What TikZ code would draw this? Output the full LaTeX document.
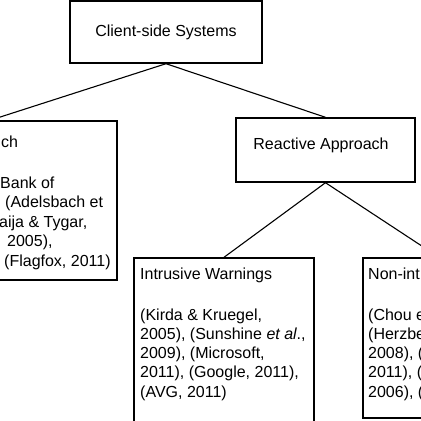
\documentclass[tikz,border=0pt]{standalone}
\usepackage{fontspec}
\setmainfont{Liberation Sans}
\usepackage{tikz}
\usetikzlibrary{positioning}
\tikzstyle{box} = [rectangle, draw, line width=1.4pt, inner sep=0pt]
\tikzstyle{link} = [line width=1.1pt]
\tikzstyle{txt} = [anchor=base west, inner sep=0pt, font=\fontsize{16}{19.5}\selectfont]

\begin{document}
\begin{tikzpicture}[x=1pt, y=-1pt]
    \useasboundingbox (0,0) rectangle (421,421);
    \clip (0,0) rectangle (421,421);
    % boxes
    \node[box, minimum width=192pt, minimum height=62pt, font=\fontsize{16}{19.5}\selectfont] (client) at (166,32) {Client-side Systems};
    \node[box, minimum width=254pt, minimum height=159pt] (proactive) at (-10,200.5) {};
    \node[box, minimum width=179pt, minimum height=64pt] (reactive) at (325.5,150) {};
    \node[font=\fontsize{16}{19.5}\selectfont] (reactivelabel) at (321,145) {Reactive Approach};
    \node[box, minimum width=180pt, minimum height=182pt] (intrusive) at (224,349) {};
    \node[box, minimum width=152pt, minimum height=160pt] (nonintrusive) at (439,338) {};
    % connectors
    \draw[link] (client.south) -- (proactive.north);
    \draw[link] (client.south) -- (reactive.north);
    \draw[link] (reactive.south) -- (intrusive.north);
    \draw[link] (reactive.south) -- (nonintrusive.north);
    % proactive text
    \node[txt] (protitle) at (1,147) {ch};
    \foreach \x/\t [count=\i] in {0/{Bank of}, 5/{(Adelsbach et}, -1/{aija \& Tygar,}, 7/{2005),}, 4/{(Flagfox, 2011)}} {
        \node[txt] (pro\i) at (\x,{168.5+19.5*\i}) {\t};
    }
    % intrusive text
    \node[txt] (inttitle) at (140,279) {Intrusive Warnings};
    \foreach \t [count=\i] in {{(Kirda \& Kruegel,}, {2005), (Sunshine \textit{et al}.,}, {2009), (Microsoft,}, {2011), (Google, 2011),}, {(AVG, 2011)}} {
        \node[txt] (int\i) at (140,{300.7+19.3*\i}) {\t};
    }
    % non-intrusive text
    \node[txt] (nontitle) at (368,279) {Non-int};
    \foreach \t [count=\i] in {{(Chou et}, {(Herzberg,}, {2008), (}, {2011), (}, {2006), (}} {
        \node[txt] (non\i) at (368,{300.7+19.3*\i}) {\t};
    }
\end{tikzpicture}
\end{document}
